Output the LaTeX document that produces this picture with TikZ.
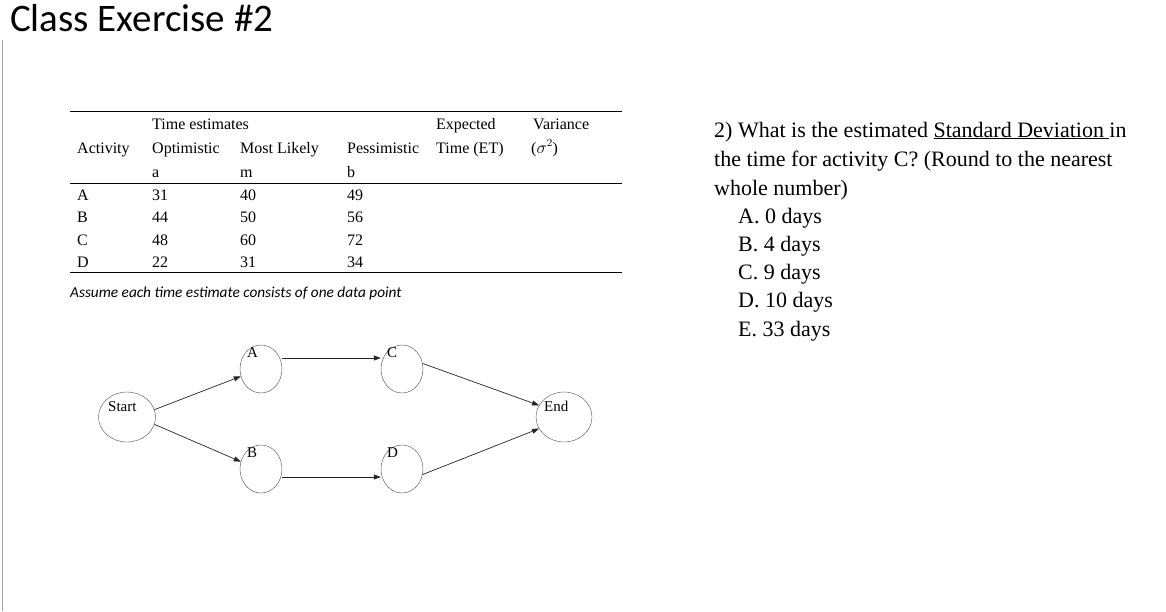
\documentclass[tikz,border=0pt]{standalone}
\usepackage{fontspec}
\setmainfont{Liberation Serif}
\newfontfamily\calfont{Carlito}
\usetikzlibrary{shapes.geometric,arrows.meta}
\begin{document}
\begin{tikzpicture}[x=1pt,y=-1pt,
  ev/.style={draw=black!70,ellipse,minimum width=42pt,minimum height=48pt,inner sep=0pt},
  elab/.style={font=\fontsize{15}{16}\selectfont,anchor=north west,inner sep=1pt},
  arr/.style={-{Triangle[length=7pt,width=5pt]},black!85,line width=0.7pt},
  tt/.style={anchor=base west,font=\fontsize{16}{18}\selectfont,inner sep=0pt},
  q/.style={anchor=base west,font=\fontsize{22}{24}\selectfont,inner sep=0pt}]
\useasboundingbox (0,0) rectangle (1166,611);
\fill[white] (0,0) rectangle (1166,611);
\draw[black!35,line width=1pt] (2,40) -- (2,611);
\node[anchor=base west,inner sep=0pt,font=\calfont\fontsize{39}{42}\selectfont] (title) at (10,31) {Class Exercise \#2};
% table
\draw[line width=1pt] (70,111) -- (622,111);
\draw[line width=1pt] (70,183) -- (622,183);
\draw[line width=1pt] (70,272) -- (622,272);
\node[tt] (h1) at (152,129) {Time estimates};
\node[tt] (h2) at (436,129) {Expected};
\node[tt] (h3) at (533,129) {Variance};
\node[tt] (c0) at (77,153) {Activity};
\node[tt] (c1) at (152,153) {Optimistic};
\node[tt] (c2) at (240,153) {Most Likely};
\node[tt] (c3) at (347,153) {Pessimistic};
\node[tt] (c4) at (436,153) {Time (ET)};
\node[tt] (c5) at (531,153) {($\sigma^2$)};
\node[tt] (ua) at (152,177) {a};
\node[tt] (um) at (240,177) {m};
\node[tt] (ub) at (347,177) {b};
\foreach \n/\a/\m/\b/\y in {A/31/40/49/200,B/44/50/56/222,C/48/60/72/245,D/22/31/34/267}{
  \node[tt] (r\n) at (77,\y) {\n};
  \node[tt] (ra\n) at (152,\y) {\a};
  \node[tt] (rm\n) at (240,\y) {\m};
  \node[tt] (rb\n) at (347,\y) {\b};
}
\node[anchor=base west,inner sep=0pt,font=\calfont\itshape\fontsize{15.3}{17}\selectfont] (note) at (70,297) {Assume each time estimate consists of one data point};
% network
\node[ev,minimum width=57pt,minimum height=50pt] (s) at (127,417) {};
\node[ev] (a) at (261,369) {};
\node[ev] (c) at (402,369) {};
\node[ev,minimum width=56pt,minimum height=50pt] (e) at (564,417) {};
\node[ev] (b) at (261,469) {};
\node[ev] (d) at (402,469) {};
\node[elab] at (107,400) {Start};
\node[elab] at (246,346) {A};
\node[elab] at (386,346) {C};
\node[elab] at (543,400) {End};
\node[elab] at (246,446) {B};
\node[elab] at (386,446) {D};
\draw[arr] (s.15) -- (a.200);
\draw[arr] (s.-15) -- (b.160);
\draw[arr] (a.east|-0,358) -- (c.west|-0,358);
\draw[arr] (b.east|-0,477) -- (d.west|-0,477);
\draw[arr] (c.15) -- (e.155);
\draw[arr] (d.-15) -- (e.-155);
% question
\node[q] (q1) at (714,137) {2) What is the estimated \underline{Standard Deviation }in};
\node[q] (q2) at (714,166) {the time for activity C? (Round to the nearest};
\node[q] (q3) at (714,195) {whole number)};
\node[q] (o1) at (738,223) {A. 0 days};
\node[q] (o2) at (738,251) {B. 4 days};
\node[q] (o3) at (738,279) {C. 9 days};
\node[q] (o4) at (738,307) {D. 10 days};
\node[q] (o5) at (738,336) {E. 33 days};
\end{tikzpicture}
\end{document}
